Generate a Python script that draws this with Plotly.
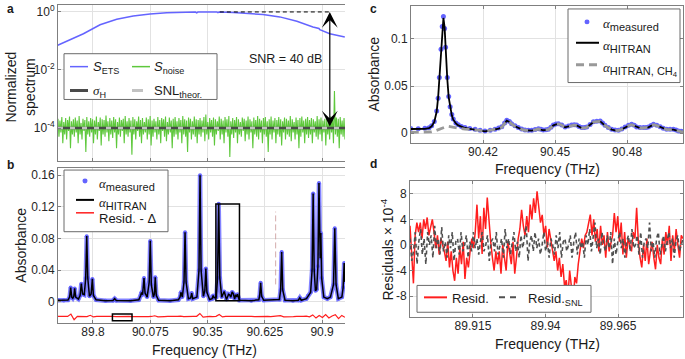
import numpy as np
import plotly.graph_objects as go

W, H = 685, 359
FONT = "Liberation Sans, Arial, sans-serif"
SERIF = "Liberation Serif, serif"

# ---------------- panel a data ----------------
ets_freq = [89.630, 89.674, 89.754, 89.834, 89.914, 89.993, 90.074, 90.154, 90.233, 90.292,
            90.298, 90.304, 90.314, 90.394, 90.400, 90.406, 90.473, 90.553, 90.616, 90.697,
            90.779, 90.856, 90.885, 90.889, 90.937, 91.009]
ets_norm = [0.071, 0.098, 0.178, 0.363, 0.562, 0.724, 0.851, 0.933, 0.977, 0.99,
            0.93, 0.99, 1.0, 1.0, 0.94, 1.0, 0.96, 0.90, 0.81, 0.676,
            0.479, 0.302, 0.27, 0.245, 0.178, 0.138]
noise_a_e4 = [2.1, 0.5, 1.8, 0.7, 2.4, 0.3, 1.6, 0.6, 2.2, 0.4, 1.9, 0.8, 2.5, 0.2, 1.7, 0.6, 2.0, 0.5, 2.3, 0.7,
              1.8, 0.3, 2.6, 0.6, 1.5, 0.4, 2.1, 0.8, 1.9, 0.15, 2.4, 0.6, 1.7, 0.5, 2.2, 0.7, 2.0, 0.3, 1.8, 0.6,
              2.5, 0.4, 1.6, 0.8, 2.3, 0.25, 2.0, 0.6, 1.9, 0.5, 2.7, 0.7, 1.7, 0.35, 2.2, 0.6, 1.8, 0.45, 2.4, 0.7,
              2.0, 0.2, 1.6, 0.6, 2.3, 0.5, 1.9, 0.8, 2.1, 0.3, 2.6, 0.6, 1.7, 0.5, 2.2, 0.7, 1.8, 0.12, 2.4, 0.6,
              2.0, 0.4, 1.7, 0.8, 2.5, 0.5, 1.9, 0.3, 2.2, 0.6, 1.6, 0.7, 2.3, 0.4, 2.0, 0.6, 2.6, 0.25, 1.8, 0.5,
              2.1, 0.7, 1.7, 0.4, 2.4, 0.6, 1.9, 0.3, 2.2, 0.8, 2.0, 0.5, 2.5, 0.35, 1.6, 0.6, 2.3, 0.7, 1.8, 0.2,
              2.1, 0.5, 2.4, 0.6, 1.7, 0.4, 2.2, 0.7, 1.9, 0.3, 2.6, 0.6, 2.0, 0.5, 1.8, 0.15, 2.3, 0.7, 2.1, 0.4,
              1.7, 0.6, 2.5, 0.5, 2.0, 0.3, 1.9, 0.6, 2.2, 0.5, 1.8, 0.7, 2.4, 0.35, 2.9, 0.6, 1.6, 0.4, 2.2, 0.7,
              1.9, 0.5, 2.3, 0.25, 2.0, 0.6, 1.7, 0.8, 2.5, 0.4, 2.1, 0.6, 1.8, 0.3, 2.4, 0.7, 2.0, 0.5, 2.6, 0.1,
              1.7, 0.6, 2.2, 0.45, 1.9, 0.7, 2.4, 0.3, 2.0, 0.6, 1.6, 0.5, 2.3, 0.8, 2.1, 0.35, 1.8, 0.6, 2.5, 0.4,
              2.0, 0.7, 1.7, 0.2, 2.3, 0.6, 1.9, 0.5, 2.6, 0.4, 2.1, 0.7, 1.8, 0.3, 2.2, 0.6, 2.4, 0.5, 1.7, 0.15,
              2.0, 0.6, 2.5, 0.4, 1.8, 0.7, 2.2, 0.3, 1.9, 0.6, 2.4, 0.5, 2.0, 0.25, 1.7, 0.7, 2.3, 0.4, 2.1, 0.6,
              1.8, 0.5, 2.6, 0.35, 2.0, 0.7, 1.6, 0.4, 2.3, 0.6, 1.9, 0.2, 2.2, 0.5, 2.5, 0.7, 1.8, 0.3, 2.1, 0.6,
              2.4, 0.45, 1.9, 0.6, 2.2, 0.3, 2.0, 0.7, 1.7, 0.5, 2.6, 0.4, 2.0, 0.6, 2.3, 0.35, 1.8, 0.7, 2.1, 0.25,
              2.2, 0.6, 1.9, 0.4, 2.5, 0.7, 2.0, 0.3, 19.0, 0.6, 2.3, 0.5, 2.1, 0.2, 2.4, 0.6, 1.8, 0.5, 2.2, 0.4]
noise_span = [89.632, 91.010]
sigma_h = 1e-4
snl_theor = 1e-4
snr_label = "SNR = 40 dB"
snr_freq = 90.937
snr_ref_from = 90.409

# ---------------- panel b data ----------------
freq_b = [89.632, 89.660, 89.680, 89.688, 89.693, 89.698, 89.703, 89.708, 89.712, 89.717,
          89.730, 89.738, 89.744, 89.750, 89.758, 89.765, 89.770, 89.775, 89.783, 89.791,
          89.797, 89.802, 89.815, 89.860, 89.896, 89.904, 89.912, 89.980, 90.020, 90.029,
          90.033, 90.038, 90.045, 90.050, 90.060, 90.070, 90.075, 90.080, 90.090, 90.095,
          90.099, 90.104, 90.115, 90.170, 90.210, 90.218, 90.222, 90.229, 90.237, 90.242,
          90.247, 90.258, 90.269, 90.274, 90.279, 90.299, 90.309, 90.314, 90.319, 90.330,
          90.337, 90.342, 90.347, 90.360, 90.372, 90.377, 90.382, 90.392, 90.398, 90.4035,
          90.409, 90.418, 90.430, 90.441, 90.451, 90.457, 90.462, 90.468, 90.474, 90.480,
          90.485, 90.489, 90.494, 90.503, 90.560, 90.596, 90.600, 90.605, 90.610, 90.620,
          90.695, 90.701, 90.706, 90.711, 90.722, 90.760, 90.786, 90.793, 90.800, 90.825,
          90.833, 90.845, 90.852, 90.857, 90.862, 90.868, 90.874, 90.880, 90.885, 90.889,
          90.891, 90.894, 90.898, 90.908, 90.925, 90.940, 90.955, 90.961, 90.967, 90.978,
          90.995, 91.001, 91.006, 91.010]
hitran_b = [0.0020, 0.0018, 0.0022, 0.0060, 0.0180, 0.0060, 0.0045, 0.0070, 0.0170, 0.0060,
            0.0035, 0.0080, 0.0230, 0.0100, 0.0090, 0.0300, 0.0830, 0.0300, 0.0070, 0.0100,
            0.0290, 0.0080, 0.0025, 0.0015, 0.0018, 0.0040, 0.0018, 0.0015, 0.0025, 0.0080,
            0.0120, 0.0090, 0.0300, 0.0110, 0.0060, 0.0250, 0.0770, 0.0220, 0.0060, 0.0100,
            0.0310, 0.0080, 0.0020, 0.0015, 0.0025, 0.0060, 0.0120, 0.0060, 0.0250, 0.0880,
            0.0250, 0.0040, 0.0050, 0.0110, 0.0040, 0.0060, 0.0400, 0.1600, 0.0400, 0.0070,
            0.0140, 0.0420, 0.0120, 0.0030, 0.0040, 0.0080, 0.0050, 0.0060, 0.0300, 0.1240,
            0.0300, 0.0060, 0.0130, 0.0030, 0.0095, 0.0085, 0.0060, 0.0125, 0.0100, 0.0035,
            0.0090, 0.0060, 0.0095, 0.0020, 0.0015, 0.0025, 0.0070, 0.0240, 0.0070, 0.0020,
            0.0030, 0.0150, 0.0630, 0.0150, 0.0020, 0.0015, 0.0020, 0.0050, 0.0020, 0.0040,
            0.0080, 0.0120, 0.0400, 0.1370, 0.0400, 0.0140, 0.0160, 0.0450, 0.1500, 0.0600,
            0.0550, 0.0870, 0.0300, 0.0060, 0.0040, 0.0060, 0.0220, 0.0930, 0.0220, 0.0040,
            0.0060, 0.0180, 0.0490, 0.0250]
resid_b = [-0.0185, -0.0183, -0.0188, -0.0184, -0.0155, -0.0226, -0.0184, -0.0187, -0.0182, -0.0186,
           -0.0170, -0.0191, -0.0185, -0.0183, -0.0187, -0.0184, -0.0186, -0.0183, -0.0187, -0.0185,
           -0.0184, -0.0186, -0.0183, -0.0187, -0.0185, -0.0184, -0.0187, -0.0183, -0.0186, -0.0185,
           -0.0176, -0.0190, -0.0184, -0.0186, -0.0183, -0.0187, -0.0185, -0.0184, -0.0181, -0.0188,
           -0.0184, -0.0186, -0.0185, -0.0183, -0.0147, -0.0192, -0.0185, -0.0184, -0.0187, -0.0183,
           -0.0160, -0.0190, -0.0185, -0.0184, -0.0186, -0.0183, -0.0187, -0.0185, -0.0184, -0.0186,
           -0.0183, -0.0187, -0.0185, -0.0184, -0.0186, -0.0183, -0.0187, -0.0185, -0.0184, -0.0175,
           -0.0189, -0.0185, -0.0184, -0.0186, -0.0183, -0.0187, -0.0185, -0.0181, -0.0190, -0.0165,
           -0.0205, -0.0172, -0.0198, -0.0160, -0.0204, -0.0178, -0.0163, -0.0212, -0.0172, -0.0196]
ticks_b = [89.8, 90.075, 90.35, 90.625, 90.9]
ticklabels_b = ["89.8", "90.075", "90.35", "90.625", "90.9"]
glitch_b = [90.677, 0.022, 0.114]

# ---------------- panel c data ----------------
freq_c = [90.3899, 90.3930, 90.3958, 90.3975, 90.3986, 90.3997, 90.4007, 90.4013, 90.4018, 90.4025,
          90.4030, 90.4035, 90.4040, 90.4044, 90.4051, 90.4057, 90.4063, 90.4070, 90.4076, 90.4087,
          90.4097, 90.4110, 90.4125, 90.4145, 90.4167, 90.4188, 90.4208, 90.4230, 90.4250, 90.4265,
          90.4278, 90.4290, 90.4299, 90.4310, 90.4319, 90.4333, 90.4347, 90.4361, 90.4375, 90.4389,
          90.4403, 90.4417, 90.4431, 90.4441, 90.4451, 90.4462, 90.4472, 90.4483, 90.4493, 90.4504,
          90.4514, 90.4528, 90.4542, 90.4556, 90.4569, 90.4580, 90.4590, 90.4600, 90.4611, 90.4622,
          90.4632, 90.4646, 90.4660, 90.4674, 90.4688, 90.4698, 90.4708, 90.4722, 90.4736, 90.4750,
          90.4764, 90.4778, 90.4792, 90.4806, 90.4819, 90.4830, 90.4840, 90.4854, 90.4868, 90.4879,
          90.4889, 90.4900, 90.4910, 90.4924, 90.4938, 90.4951, 90.4965, 90.4979, 90.4993, 90.5004,
          90.5014, 90.5025, 90.5035]
hitran_c = [0.0045, 0.0045, 0.0047, 0.0055, 0.0074, 0.0120, 0.0230, 0.0380, 0.0580, 0.0900,
            0.1120, 0.1220, 0.1120, 0.0900, 0.0580, 0.0380, 0.0270, 0.0190, 0.0144, 0.0105,
            0.0084, 0.0068, 0.0056, 0.0047, 0.0039, 0.0030, 0.0021, 0.0030, 0.0039, 0.0050,
            0.0063, 0.0105, 0.0133, 0.0120, 0.0098, 0.0075, 0.0056, 0.0042, 0.0032, 0.0028,
            0.0028, 0.0036, 0.0045, 0.0038, 0.0032, 0.0035, 0.0039, 0.0060, 0.0084, 0.0095,
            0.0098, 0.0085, 0.0063, 0.0072, 0.0084, 0.0086, 0.0084, 0.0068, 0.0056, 0.0058,
            0.0063, 0.0090, 0.0119, 0.0124, 0.0126, 0.0105, 0.0080, 0.0058, 0.0039, 0.0030,
            0.0028, 0.0042, 0.0063, 0.0080, 0.0091, 0.0080, 0.0063, 0.0056, 0.0056, 0.0058,
            0.0063, 0.0078, 0.0091, 0.0082, 0.0066, 0.0050, 0.0039, 0.0038, 0.0039, 0.0030,
            0.0021, 0.0017, 0.0014]
measured_c = [0.0050, 0.0048, 0.0052, 0.0058, 0.0080, 0.0125, 0.0235, 0.0370, 0.0590, 0.0890,
              0.1130, 0.1235, 0.1110, 0.0910, 0.0590, 0.0390, 0.0280, 0.0200, 0.0150, 0.0110,
              0.0090, 0.0072, 0.0060, 0.0050, 0.0042, 0.0033, 0.0025, 0.0033, 0.0043, 0.0055,
              0.0068, 0.0110, 0.0138, 0.0125, 0.0102, 0.0080, 0.0060, 0.0046, 0.0035, 0.0031,
              0.0032, 0.0040, 0.0049, 0.0042, 0.0036, 0.0038, 0.0043, 0.0064, 0.0088, 0.0099,
              0.0102, 0.0089, 0.0067, 0.0076, 0.0088, 0.0090, 0.0088, 0.0072, 0.0060, 0.0062,
              0.0067, 0.0094, 0.0123, 0.0128, 0.0130, 0.0109, 0.0084, 0.0062, 0.0043, 0.0034,
              0.0032, 0.0046, 0.0067, 0.0084, 0.0095, 0.0084, 0.0067, 0.0060, 0.0060, 0.0062,
              0.0067, 0.0082, 0.0095, 0.0086, 0.0070, 0.0054, 0.0043, 0.0042, 0.0043, 0.0034,
              0.0025, 0.0021, 0.0018]
ch4_c = [0.0010, 0.0010, 0.0011, 0.0013, 0.0016, 0.0022, 0.0032, 0.0040, 0.0048, 0.0056,
         0.0061, 0.0066, 0.0070, 0.0073, 0.0074, 0.0073, 0.0070, 0.0066, 0.0061, 0.0055,
         0.0050, 0.0046, 0.0043, 0.0041, 0.0037, 0.0030, 0.0021, 0.0030, 0.0039, 0.0050,
         0.0063, 0.0105, 0.0133, 0.0120, 0.0098, 0.0075, 0.0056, 0.0042, 0.0032, 0.0028,
         0.0028, 0.0036, 0.0045, 0.0038, 0.0032, 0.0035, 0.0039, 0.0060, 0.0084, 0.0095,
         0.0098, 0.0085, 0.0063, 0.0072, 0.0084, 0.0086, 0.0084, 0.0068, 0.0056, 0.0058,
         0.0063, 0.0090, 0.0119, 0.0124, 0.0126, 0.0105, 0.0080, 0.0058, 0.0039, 0.0030,
         0.0028, 0.0042, 0.0063, 0.0080, 0.0091, 0.0080, 0.0063, 0.0056, 0.0056, 0.0058,
         0.0063, 0.0078, 0.0091, 0.0082, 0.0066, 0.0050, 0.0039, 0.0038, 0.0039, 0.0030,
         0.0021, 0.0017, 0.0014]
range_c = [90.3900, 90.5033]
ticks_c = [90.42, 90.45, 90.48]

# ---------------- panel d data (x 1e-4) ----------------
resid_d_e4 = [3.0, -2.0, -6.0, 1.5, 3.5,
              2.0, 3.5, 1.0, 4.0, 2.5, 4.3, 1.5, 3.0, 4.0,
              2.0, -0.5, 1.5, -1.5, 1.0, 0.0, -1.0,
              -2.5, 0.5, -3.5, -1.0, -4.0, -5.6,
              -2.0, -4.5, -0.5, -3.0, 0.5, -5.3, -2.0, -3.5,
              -1.0, 1.0, -0.5, 2.0,
              6.3, 1.0, 4.5, -1.4, 5.8, 2.5, 7.4, 3.0, 0.5,
              -2.0, -4.0, -1.0, -3.0,
              -1.0, -4.5, 0.0, -2.0, -4.0, 0.6, -1.5, -3.0, 0.5, -4.5, -2.0, 1.0,
              2.5, 5.5, 3.0, 1.5, 4.5, 2.0, 6.3, 4.0,
              7.3, 5.0, 8.4, 6.0,
              3.5, 4.7, 1.5, 3.0, -0.4, 2.5, 1.0,
              -0.4, -2.5, -1.0, -4.0, -2.0, -5.0,
              -3.0, -6.5, -5.5, -8.0, -4.0, -7.0, -9.0, -5.0, -6.0, -3.0,
              -1.0, 1.0, -0.5, 1.5,
              2.0, 3.5, 4.75, 1.5, 4.0, 0.5, 2.5, -1.0,
              3.0, 0.0, 1.5, -2.0, 2.0, -1.0, 0.5, 1.5,
              5.0, 2.0, 4.5, 0.5, 3.5, -1.5, 2.0, -2.0, 1.0, 0.0,
              -1.0, 2.0, 1.0, 5.8, 0.5, -2.0,
              -3.5, 0.0, -2.5, 1.0, -3.0, -1.0, 0.5, -2.0,
              -3.8, 0.0, -2.0, -3.0, 1.0, -1.5, 2.0, 0.0,
              3.0, -2.5, 1.5, -1.0, 2.5, 0.0, -2.0, 1.5, 1.0]
resid_snl_d_e4 = [1.0, -2.5, -1.0, 2.0, -3.0, 0.5, 2.5, -1.5, 1.0, -3.0, 2.0, 0.0, 1.5, -2.0, 3.0, -0.5,
                  1.0, -1.5, 2.8, -1.0, 0.5, -2.0, 1.5, -0.5, 2.0, -2.5, 0.5, 1.0, -1.5, 2.0, -1.0, 0.0,
                  1.5, -2.0, 0.5, -1.0, 2.0, -0.5, 1.0, -1.5, 0.5, 2.0, -1.0, 0.0, 1.5, -2.5, 0.5, 1.0,
                  -1.0, 2.0, -1.5, 0.0, 1.0, -2.0, 2.5, -0.5, 1.0, -1.5, 0.5, 2.0, -1.0, 0.5, -2.0, 1.5,
                  -0.5, 1.0, 3.0, -2.5, 0.5, 1.5, -1.0, 2.0, -0.5, 1.0, -1.5, 0.0, 2.0, -1.0, 0.5, -2.0,
                  1.0, 0.0, -1.5, 1.5, -0.5, 2.0, -2.0, 0.5, 1.0, -1.0, 0.0, 1.5, -2.0, 0.5, 2.0, -1.5,
                  1.0, -0.5, 0.5, -2.0, 1.5, 0.0, 2.5, -1.0, 1.0, 3.5, -0.5, 1.0, -1.5, 2.0, 0.0, -1.0,
                  1.5, -0.5, 2.0, -3.0, 1.0, -1.5, 0.5, 2.0, -0.5, 1.0, -2.0, 0.5, 1.5, -1.0, 2.5, -0.5,
                  0.0, 1.5, -1.5, 2.0, -2.0, 0.5, 1.0, -0.5, 3.5, -1.0, 0.5, -2.0, 1.0, 2.0, -1.5, 0.0,
                  1.5, -1.0, 0.5, 2.0, -0.5, 1.0, -2.0, 0.5, 1.5, -1.0, 0.0, 1.0]
range_d = [89.8933, 89.9874]
ticks_d = [89.915, 89.94, 89.965]

# ---------------- colours ----------------
BLUE = "#6464ff"
GREEN = "#5ec83c"
RED = "#ff1e1e"
DKGRAY = "#4a4a4a"
LTGRAY = "#c2c2c2"
CH4GRAY = "#999999"
SNLGRAY = "#505050"
AXC = "#7f7f7f"

# ---------------- geometry (pixels) ----------------
A = dict(l=58, r=345, t=3, b=160)
B = dict(l=58, r=345, t=167, b=323)
C = dict(l=411, r=683, t=4, b=142)
D = dict(l=410, r=683, t=180, b=317)
range_ab = [89.632, 91.010]
range_a_log = [-5.14, 0.24]


def xdom(p):
    return [p["l"] / W, p["r"] / W]


def ydom(p):
    return [1 - p["b"] / H, 1 - p["t"] / H]


fig = go.Figure()

# panel a
fig.add_trace(go.Scatter(x=ets_freq, y=ets_norm, mode="lines", line=dict(color=BLUE, width=1.5),
                         xaxis="x", yaxis="y", name="S_ETS"))
noise_freq = np.linspace(noise_span[0], noise_span[1], len(noise_a_e4))
fig.add_trace(go.Scatter(x=noise_freq, y=np.array(noise_a_e4) * 1e-4, mode="lines",
                         line=dict(color=GREEN, width=1.1), xaxis="x", yaxis="y", name="S_noise"))
fig.add_trace(go.Scatter(x=noise_span, y=[sigma_h, sigma_h], mode="lines",
                         line=dict(color=DKGRAY, width=2.5), xaxis="x", yaxis="y", name="sigma_H"))
fig.add_trace(go.Scatter(x=noise_span, y=[snl_theor, snl_theor], mode="lines",
                         line=dict(color=LTGRAY, width=2.5, dash="5px,7px"), xaxis="x", yaxis="y", name="SNL"))

# panel b
fig.add_trace(go.Scatter(x=freq_b, y=hitran_b, mode="lines+markers",
                         line=dict(color="rgba(100,100,255,0.8)", width=4.5),
                         marker=dict(color=BLUE, size=4), xaxis="x2", yaxis="y2", name="measured"))
fig.add_trace(go.Scatter(x=freq_b, y=hitran_b, mode="lines", line=dict(color="black", width=1.5),
                         xaxis="x2", yaxis="y2", name="HITRAN"))
resid_freq_b = np.linspace(range_ab[0], range_ab[1], len(resid_b))
fig.add_trace(go.Scatter(x=resid_freq_b, y=resid_b, mode="lines", line=dict(color=RED, width=1.2),
                         xaxis="x2", yaxis="y2", name="Resid"))

# panel c
fig.add_trace(go.Scatter(x=freq_c, y=measured_c, mode="markers", marker=dict(color=BLUE, size=5),
                         xaxis="x3", yaxis="y3", name="measured"))
fig.add_trace(go.Scatter(x=freq_c, y=hitran_c, mode="lines", line=dict(color="black", width=1.8),
                         xaxis="x3", yaxis="y3", name="HITRAN"))
fig.add_trace(go.Scatter(x=freq_c, y=ch4_c, mode="lines", line=dict(color=CH4GRAY, width=2.8, dash="8px,5px"),
                         xaxis="x3", yaxis="y3", name="CH4"))

# panel d
fd = np.linspace(range_d[0], range_d[1], len(resid_d_e4))
fig.add_trace(go.Scatter(x=fd, y=resid_d_e4, mode="lines", line=dict(color=RED, width=1.5),
                         xaxis="x4", yaxis="y4", name="Resid"))
fd2 = np.linspace(range_d[0], range_d[1], len(resid_snl_d_e4))
fig.add_trace(go.Scatter(x=fd2, y=resid_snl_d_e4, mode="lines",
                         line=dict(color=SNLGRAY, width=1.6, dash="4px,3px"),
                         xaxis="x4", yaxis="y4", name="Resid SNL"))

common = dict(showgrid=True, gridcolor="#e2e2e2", gridwidth=1, showline=True, linecolor=AXC, linewidth=1,
              ticks="inside", ticklen=3, tickcolor=AXC, tickwidth=1,
              tickfont=dict(size=12, color="#262626", family=FONT), zeroline=False)
xcommon = dict(common, ticklabelstandoff=-3)

layout = dict(
    width=W, height=H, margin=dict(l=0, r=0, t=0, b=0),
    paper_bgcolor="white", plot_bgcolor="white", showlegend=False,
    font=dict(family=FONT, size=12, color="#262626"),
    xaxis=dict(xcommon, domain=xdom(A), anchor="y", range=range_ab, tickvals=ticks_b,
               showticklabels=False, mirror=True),
    yaxis=dict(common, domain=ydom(A), anchor="x", type="log", range=range_a_log,
               tickvals=[1e-4, 1e-2, 1], ticktext=["10<sup>-4</sup>", "10<sup>-2</sup>", "10<sup>0</sup>"]),
    xaxis2=dict(xcommon, domain=xdom(B), anchor="y2", range=range_ab, tickvals=ticks_b,
                ticktext=ticklabels_b, mirror=True),
    yaxis2=dict(common, domain=ydom(B), anchor="x2", range=[-0.027, 0.169],
                tickvals=[0, 0.04, 0.08, 0.12, 0.16], ticktext=["0", "0.04", "0.08", "0.12", "0.16"]),
    xaxis3=dict(xcommon, domain=xdom(C), anchor="y3", range=range_c, tickvals=ticks_c,
                ticktext=[f"{v:g}" for v in ticks_c], mirror="ticks"),
    yaxis3=dict(common, domain=ydom(C), anchor="x3", range=[-0.0105, 0.1347],
                tickvals=[0, 0.05, 0.1], ticktext=["0", "0.05", "0.1"], mirror="ticks"),
    xaxis4=dict(xcommon, domain=xdom(D), anchor="y4", range=range_d, tickvals=ticks_d,
                ticktext=[f"{v:g}" for v in ticks_d], mirror="ticks"),
    yaxis4=dict(common, domain=ydom(D), anchor="x4", range=[-11.3, 10.0],
                tickvals=[-8, -4, 0, 4, 8], ticktext=["-8", "-4", "0", "4", "8"], mirror="ticks"),
)

shapes = []
annotations = []


def px(x):
    return x / W


def py(y):
    return 1 - y / H


def box(x0, y0, x1, y1):
    shapes.append(dict(type="rect", xref="paper", yref="paper", x0=px(x0), x1=px(x1), y0=py(y1), y1=py(y0),
                       line=dict(color="#6a6a6a", width=1), fillcolor="white", layer="above"))


def seg(x0, x1, y, color, width, dash="solid"):
    shapes.append(dict(type="line", xref="paper", yref="paper", x0=px(x0), x1=px(x1), y0=py(y), y1=py(y),
                       line=dict(color=color, width=width, dash=dash), layer="above"))


def dot(x, y, r, color):
    shapes.append(dict(type="circle", xref="paper", yref="paper", x0=px(x - r), x1=px(x + r),
                       y0=py(y + r), y1=py(y - r), fillcolor=color, line=dict(width=0), layer="above"))


def text(x, y, s, size=13, xanchor="left", angle=0):
    annotations.append(dict(xref="paper", yref="paper", x=px(x), y=py(y), text=s, showarrow=False,
                            xanchor=xanchor, yanchor="middle", textangle=angle,
                            font=dict(size=size, color="#1a1a1a", family=FONT)))


def alpha(sub):
    return (f'<span style="font-family:{SERIF}"><i>α</i></span>'
            f'<sub><span style="font-size:11px">{sub}</span></sub>')


def a_log_to_px(v):
    lo, hi = range_a_log
    return A["b"] - (v - lo) / (hi - lo) * (A["b"] - A["t"])


def a_f_to_px(f):
    return A["l"] + (f - range_ab[0]) / (range_ab[1] - range_ab[0]) * (A["r"] - A["l"])


# panel letters
for lx, ly, lab in [(10, 7, "a"), (10, 164, "b"), (374, 7, "c"), (374, 163, "d")]:
    text(lx, ly, f"<b>{lab}</b>", size=12, xanchor="center")

# axis titles
text(20, 86, "Normalized<br>spectrum", size=14, xanchor="center", angle=-90)
text(21, 245, "Absorbance", size=14, xanchor="center", angle=-90)
text(204, 350, "Frequency (THz)", size=14, xanchor="center")
text(374, 72, "Absorbance", size=14, xanchor="center", angle=-90)
text(547, 168, "Frequency (THz)", size=14, xanchor="center")
text(387, 249, "Residuals × 10<sup>-4</sup>", size=14, xanchor="center", angle=-90)
text(547, 344, "Frequency (THz)", size=14, xanchor="center")

# panel a SNR marker
y_top = a_log_to_px(np.log10(max(ets_norm)))
seg(a_f_to_px(snr_ref_from), a_f_to_px(snr_freq), y_top, "black", 1, "4px,3px")
annotations.append(dict(x=snr_freq, y=np.log10(max(ets_norm)), xref="x", yref="y",
                        ax=snr_freq, ay=np.log10(snl_theor), axref="x", ayref="y",
                        showarrow=True, arrowhead=3, arrowside="end+start", arrowsize=2.2,
                        arrowwidth=1.2, arrowcolor="black", text=""))
text(285, 57, snr_label, size=12.5, xanchor="center")

# panel a legend
box(64, 52, 217, 98)
seg(70, 88, 65, BLUE, 1.5)
text(91, 66, "<i>S</i><sub>ETS</sub>")
seg(132, 150, 65, GREEN, 1.5)
text(152, 66, "<i>S</i><sub>noise</sub>")
seg(70, 88, 89, DKGRAY, 3)
text(91, 90, f'<span style="font-family:{SERIF}"><i>σ</i></span><sub>H</sub>')
seg(132, 143, 89, LTGRAY, 3)
text(152, 90, "SNL<sub>theor.</sub>")

# panel b: zoom boxes and glitch
shapes.append(dict(type="rect", xref="x2", yref="y2", x0=range_c[0], x1=range_c[1], y0=0.0013, y1=0.1237,
                   line=dict(color="black", width=1.5), layer="above"))
shapes.append(dict(type="rect", xref="x2", yref="y2", x0=range_d[0], x1=range_d[1], y0=-0.0239, y1=-0.0155,
                   line=dict(color="black", width=1.5), layer="above"))
shapes.append(dict(type="line", xref="x2", yref="y2", x0=glitch_b[0], x1=glitch_b[0], y0=glitch_b[1],
                   y1=glitch_b[2], line=dict(color="rgba(200,150,150,0.8)", width=1, dash="6px,3px")))

# panel b legend
box(64, 169, 168, 231)
dot(85, 180, 2.5, BLUE)
text(97, 184, alpha("measured"))
seg(76, 94, 199, "black", 2)
text(97, 203, alpha("HITRAN"))
seg(76, 94, 212, RED, 1.5)
text(97, 218, "Resid. - Δ")

# panel c legend
box(568, 7, 680, 81)
dot(587, 20, 2.5, BLUE)
text(601, 23, alpha("measured"))
seg(576, 599, 41, "black", 2)
text(601, 45, alpha("HITRAN"))
seg(576, 599, 63, CH4GRAY, 3, "8px,5px")
text(601, 68, alpha("HITRAN, CH<sub>4</sub>"))

# panel d legend
box(417, 285, 591, 312)
seg(424, 447, 297, RED, 2)
text(450, 298, "Resid.")
seg(499, 519, 297, SNLGRAY, 2, "6px,5px")
text(526, 299, "Resid.<sub>SNL</sub>")

layout["shapes"] = shapes
layout["annotations"] = annotations
fig.update_layout(**layout)
fig.write_html("out.html", config={"displayModeBar": False},
               post_script="document.body.style.margin='0px';")
